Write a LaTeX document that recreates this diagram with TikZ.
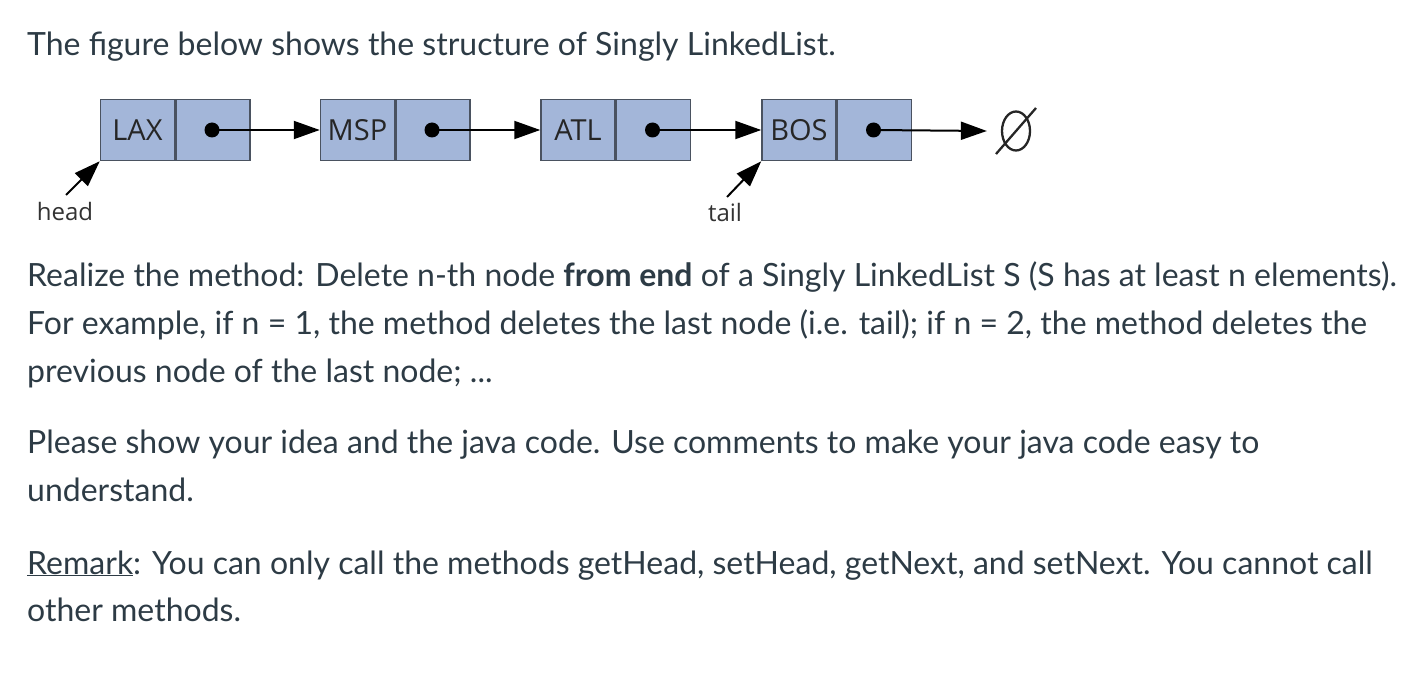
\documentclass[tikz,border=0pt]{standalone}
\usepackage{fontspec}
\setmainfont{Lato}
\newfontfamily\boxfont{Open Sans}
\usetikzlibrary{arrows.meta,shapes.geometric}
\definecolor{cellblue}{HTML}{A3B6D9}
\definecolor{cellline}{HTML}{4A5260}
\definecolor{txt}{HTML}{2D3B45}
\tikzset{
  cell/.style={draw=cellline, line width=1.5pt, fill=cellblue, minimum width=74pt, minimum height=61pt, inner sep=0pt, font=\boxfont\fontsize{29}{29}\selectfont, text=black!85},
  link/.style={line width=2pt, -{Triangle[length=26pt,width=18pt]}},
  dotmark/.style={circle, fill=black, inner sep=0pt, minimum size=15pt},
  lbl/.style={font=\boxfont\fontsize{24}{24}\selectfont, text=black!80, inner sep=0pt},
  para/.style={anchor=base west, inner sep=0pt, font=\fontsize{32}{32}\selectfont, text=txt}
}
\begin{document}
\begin{tikzpicture}[x=1pt, y=-1pt]
\useasboundingbox (0,0) rectangle (1420,676);
% list nodes
\node[cell] (lax) at (137.5,130) {LAX};
\node[cell, anchor=west] (laxp) at (lax.east) {};
\node[cell] (msp) at (357.5,130) {MSP};
\node[cell, anchor=west] (mspp) at (msp.east) {};
\node[cell] (atl) at (578,130) {ATL};
\node[cell, anchor=west] (atlp) at (atl.east) {};
\node[cell] (bos) at (799,130) {BOS};
\node[cell, anchor=west] (bosp) at (bos.east) {};
\node[ellipse, draw=black!85, line width=2.3pt, minimum width=28pt, minimum height=39pt, inner sep=0pt] (null) at (1016,131) {};
\draw[black!85, line width=2.3pt] ([shift={(-20pt,-23pt)}]null.center) -- ([shift={(20pt,23pt)}]null.center);
% dots
\node[dotmark] (d1) at ([xshift=-1pt]laxp.center) {};
\node[dotmark] (d2) at ([xshift=-1pt]mspp.center) {};
\node[dotmark] (d3) at ([xshift=-1pt]atlp.center) {};
\node[dotmark] (d4) at ([xshift=-1pt]bosp.center) {};
\draw[link] (d1.center) -- (msp.west);
\draw[link] (d2.center) -- (atl.west);
\draw[link] (d3.center) -- (bos.west);
\draw[link] (d4.center) -- ([xshift=-14pt]null.west);
% head and tail
\node[lbl] (head) at (65,212) {head};
\node[lbl] (tail) at (725,213) {tail};
\coordinate (hs) at (66,195);
\coordinate (ts) at (727,197);
\draw[link] (hs) -- (lax.south west);
\draw[link] (ts) -- (bos.south west);
% text
\node[para] (t0) at (27,56) {The figure below shows the structure of Singly LinkedList.};
\node[para] (t1) at (27,286) {Realize the method: Delete n-th node \textbf{from end} of a Singly LinkedList S (S has at least n elements).};
\node[para] (t2) at (27,334) {For example, if n = 1, the method deletes the last node (i.e. tail); if n = 2, the method deletes the};
\node[para] (t3) at (27,382) {previous node of the last node; ...};
\node[para] (t4) at (27,453) {Please show your idea and the java code. Use comments to make your java code easy to};
\node[para] (t5) at (27,501) {understand.};
\node[para] (t6) at (27,574) {\underline{Remark}: You can only call the methods getHead, setHead, getNext, and setNext. You cannot call};
\node[para] (t7) at (27,621) {other methods.};
\end{tikzpicture}
\end{document}
